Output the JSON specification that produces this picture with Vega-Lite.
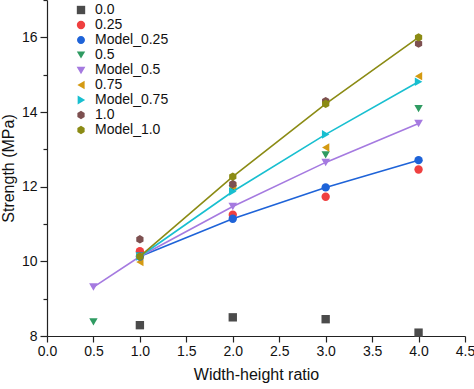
{
  "$schema": "https://vega.github.io/schema/vega-lite/v6.json",
  "width": 418,
  "height": 336,
  "autosize": {"type": "none"},
  "padding": {"left": 47, "top": 0, "right": 9, "bottom": 53},
  "background": "white",
  "config": {
    "view": {"stroke": null},
    "font": "Liberation Sans",
    "axis": {
      "labelFont": "Liberation Sans",
      "titleFont": "Liberation Sans",
      "labelFontSize": 14,
      "titleFontSize": 16,
      "titleFontWeight": "normal",
      "labelColor": "#111",
      "titleColor": "#111",
      "domainColor": "#222",
      "tickColor": "#222",
      "domainWidth": 1.2,
      "tickWidth": 1.2,
      "grid": false
    }
  },
  "data": {
    "values": [
      {"series": "0.0", "x": 1, "y": 8.29},
      {"series": "0.0", "x": 2, "y": 8.5},
      {"series": "0.0", "x": 3, "y": 8.45},
      {"series": "0.0", "x": 4, "y": 8.09},
      {"series": "0.25", "x": 1, "y": 10.27},
      {"series": "0.25", "x": 2, "y": 11.25},
      {"series": "0.25", "x": 3, "y": 11.73},
      {"series": "0.25", "x": 4, "y": 12.46},
      {"series": "Model_0.25", "x": 1, "y": 10.13},
      {"series": "Model_0.25", "x": 2, "y": 11.14},
      {"series": "Model_0.25", "x": 3, "y": 11.98},
      {"series": "Model_0.25", "x": 4, "y": 12.71},
      {"series": "0.5", "x": 0.5, "y": 8.38},
      {"series": "0.5", "x": 1, "y": 10.15},
      {"series": "0.5", "x": 2, "y": 11.95},
      {"series": "0.5", "x": 3, "y": 12.85},
      {"series": "0.5", "x": 4, "y": 14.09},
      {"series": "Model_0.5", "x": 0.5, "y": 9.31},
      {"series": "Model_0.5", "x": 1, "y": 10.13},
      {"series": "Model_0.5", "x": 2, "y": 11.47},
      {"series": "Model_0.5", "x": 3, "y": 12.65},
      {"series": "Model_0.5", "x": 4, "y": 13.69},
      {"series": "0.75", "x": 1, "y": 9.98},
      {"series": "0.75", "x": 2, "y": 12.0},
      {"series": "0.75", "x": 3, "y": 13.05},
      {"series": "0.75", "x": 4, "y": 14.96},
      {"series": "Model_0.75", "x": 1, "y": 10.13},
      {"series": "Model_0.75", "x": 2, "y": 11.87},
      {"series": "Model_0.75", "x": 3, "y": 13.4},
      {"series": "Model_0.75", "x": 4, "y": 14.81},
      {"series": "1.0", "x": 1, "y": 10.59},
      {"series": "1.0", "x": 2, "y": 12.07},
      {"series": "1.0", "x": 3, "y": 14.29},
      {"series": "1.0", "x": 4, "y": 15.83},
      {"series": "Model_1.0", "x": 1, "y": 10.13},
      {"series": "Model_1.0", "x": 2, "y": 12.27},
      {"series": "Model_1.0", "x": 3, "y": 14.22},
      {"series": "Model_1.0", "x": 4, "y": 16.0}
    ]
  },
  "encoding": {
    "x": {
      "field": "x", "type": "quantitative",
      "scale": {"domain": [0, 4.5], "nice": false, "zero": false},
      "axis": {
        "title": "Width-height ratio",
        "values": [0, 0.5, 1, 1.5, 2, 2.5, 3, 3.5, 4, 4.5],
        "format": ".1f",
        "tickSize": 6,
        "labelPadding": 2,
        "titlePadding": 8,
        "labelFlush": false,
        "labelOverlap": false
      }
    },
    "y": {
      "field": "y", "type": "quantitative",
      "scale": {"domain": [8, 17], "nice": false, "zero": false},
      "axis": {
        "title": "Strength (MPa)",
        "values": [8, 9, 10, 11, 12, 13, 14, 15, 16, 17],
        "labelExpr": "datum.value % 2 === 0 ? datum.label : ''",
        "tickSize": {"condition": {"test": "datum.value % 2 === 1", "value": 4}, "value": 7},
        "labelPadding": 3,
        "titlePadding": 5,
        "labelFlush": false,
        "labelOverlap": false
      }
    }
  },
  "layer": [
    {
      "transform": [{"filter": "indexof(datum.series, 'Model') !== 0"}],
      "mark": {"type": "point", "filled": true, "opacity": 1, "size": 70},
      "encoding": {
        "color": {
          "field": "series", "type": "nominal",
          "scale": {
            "domain": ["0.0", "0.25", "Model_0.25", "0.5", "Model_0.5", "0.75", "Model_0.75", "1.0", "Model_1.0"],
            "range": ["#4b4b4b", "#ef4040", "#1e63d8", "#2f9b62", "#a57ae0", "#d49a12", "#18bfd0", "#7d5050", "#8b8b14"]
          },
          "legend": {
            "title": null,
            "orient": "none",
            "legendX": 27,
            "legendY": 3,
            "padding": 0,
            "symbolSize": 70,
            "labelFont": "Liberation Sans",
            "labelFontSize": 14,
            "labelColor": "#111",
            "labelOffset": 7,
            "rowPadding": 1,
            "encode": {
              "symbols": {
                "stroke": {"value": {"expr": "scale('color', datum.value)"}},
                "strokeWidth": {"value": {"expr": "indexof(datum.value, 'Model') === 0 ? 1.6 : 0"}}
              }
            }
          }
        },
        "shape": {
          "field": "series", "type": "nominal",
          "scale": {
            "domain": ["0.0", "0.25", "Model_0.25", "0.5", "Model_0.5", "0.75", "Model_0.75", "1.0", "Model_1.0"],
            "range": ["square", "circle", "M-3.6,0H3.6M0.95,0A0.95,0.95 0 1,1 -0.95,0A0.95,0.95 0 1,1 0.95,0Z", "triangle-down", "M-3.6,0H3.6M-1.05,-0.8L1.05,-0.8L0,1Z", "triangle-left", "M-3.6,0H3.6M-0.8,-1.05L-0.8,1.05L1,0Z", "M0,-1L0.866,-0.5L0.866,0.5L0,1L-0.866,0.5L-0.866,-0.5Z", "M-3.6,0H3.6M0,-1L0.866,-0.5L0.866,0.5L0,1L-0.866,0.5L-0.866,-0.5Z"]
          },
          "legend": {
            "title": null,
            "orient": "none",
            "legendX": 27,
            "legendY": 3,
            "padding": 0,
            "symbolSize": 70,
            "labelFont": "Liberation Sans",
            "labelFontSize": 14,
            "labelColor": "#111",
            "labelOffset": 7,
            "rowPadding": 1,
            "encode": {
              "symbols": {
                "stroke": {"value": {"expr": "scale('color', datum.value)"}},
                "strokeWidth": {"value": {"expr": "indexof(datum.value, 'Model') === 0 ? 1.6 : 0"}}
              }
            }
          }
        }
      }
    },
    {
      "transform": [{"filter": "datum.series === 'Model_0.25'"}],
      "mark": {"type": "line", "color": "#1e63d8", "strokeWidth": 1.6, "point": {"shape": "circle", "filled": true, "size": 70, "color": "#1e63d8", "opacity": 1}},
      "encoding": {}
    },
    {
      "transform": [{"filter": "datum.series === 'Model_0.5'"}],
      "mark": {"type": "line", "color": "#a57ae0", "strokeWidth": 1.6, "point": {"shape": "triangle-down", "filled": true, "size": 75, "color": "#a57ae0", "opacity": 1}},
      "encoding": {}
    },
    {
      "transform": [{"filter": "datum.series === 'Model_0.75'"}],
      "mark": {"type": "line", "color": "#18bfd0", "strokeWidth": 1.6, "point": {"shape": "triangle-right", "filled": true, "size": 75, "color": "#18bfd0", "opacity": 1}},
      "encoding": {}
    },
    {
      "transform": [{"filter": "datum.series === 'Model_1.0'"}],
      "mark": {"type": "line", "color": "#8b8b14", "strokeWidth": 1.6, "point": {"shape": "M0,-1L0.866,-0.5L0.866,0.5L0,1L-0.866,0.5L-0.866,-0.5Z", "filled": true, "size": 70, "color": "#8b8b14", "opacity": 1}},
      "encoding": {}
    }
  ]
}
